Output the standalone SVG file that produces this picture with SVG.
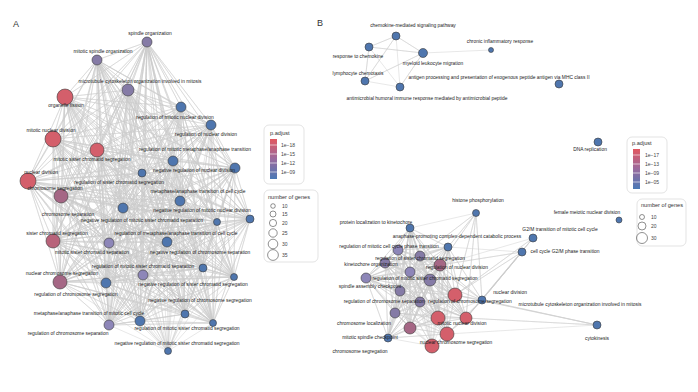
<svg xmlns="http://www.w3.org/2000/svg" width="698" height="392" viewBox="0 0 698 392">
<style>
.e{fill:none;stroke:#cbcbcb;stroke-width:.45}
.n{stroke:#3a3a3a;stroke-width:.6}
.r{fill:#d45f6b}.m{fill:#a56785}.p{fill:#857ba6}.l{fill:#8d86b8}.b{fill:#4f76ae}
text{font-family:"Liberation Sans",Arial,sans-serif;fill:#222}
.t{font-size:4.9px;text-anchor:middle}
.h{font-size:9px;fill:#333}
.lg{fill:#fff;stroke:#dcdcdc;stroke-width:.8}
.lt{font-size:5.6px;fill:#333}
.ll{font-size:5px;fill:#444}
.k{fill:none;stroke:#222;stroke-width:.5}
.tk{stroke:#fff;stroke-width:.6}
</style>
<defs>
<linearGradient id="pg" x1="0" y1="0" x2="0" y2="1">
<stop offset="0" stop-color="#e2575f"/><stop offset=".5" stop-color="#9a6a9e"/><stop offset="1" stop-color="#4a79b6"/>
</linearGradient>
</defs>
<rect width="698" height="392" fill="#fff"/>
<text class="h" x="13" y="27">A</text>
<text class="h" x="317" y="26">B</text>
<g id="connectors">
<path class="e" d="M147 42L97 60 147 42 128 90 147 42 65 97 147 42 181 107 147 42 211 125 147 42 53 139 147 42 97 150 147 42 173 161 147 42 142 173 147 42 235 168 147 42 28 181 147 42 61 196 147 42 180 201 147 42 123 208 147 42 217 222 147 42 250 219 147 42 53 241 147 42 109 243 147 42 167 242 147 42 60 282 147 42 106 283 147 42 143 275 147 42 203 268 147 42 234 277 147 42 109 325 147 42 140 321 147 42 185 314 147 42 213 323 147 42 168 351"/>
<path class="e" d="M97 60L128 90 97 60 65 97 97 60 181 107 97 60 211 125 97 60 53 139 97 60 97 150 97 60 173 161 97 60 142 173 97 60 235 168 97 60 28 181 97 60 61 196 97 60 180 201 97 60 123 208 97 60 217 222 97 60 250 219 97 60 53 241 97 60 109 243 97 60 167 242 97 60 60 282 97 60 106 283 97 60 143 275 97 60 203 268 97 60 234 277 97 60 109 325 97 60 140 321 97 60 185 314 97 60 213 323 97 60 168 351"/>
<path class="e" d="M128 90L65 97 128 90 181 107 128 90 211 125 128 90 53 139 128 90 97 150 128 90 173 161 128 90 142 173 128 90 235 168 128 90 28 181 128 90 61 196 128 90 180 201 128 90 123 208 128 90 217 222 128 90 250 219 128 90 53 241 128 90 109 243 128 90 167 242 128 90 60 282 128 90 106 283 128 90 143 275 128 90 203 268 128 90 234 277 128 90 109 325 128 90 140 321 128 90 185 314 128 90 213 323 128 90 168 351"/>
<path class="e" d="M65 97L181 107 65 97 211 125 65 97 53 139 65 97 97 150 65 97 173 161 65 97 142 173 65 97 235 168 65 97 28 181 65 97 61 196 65 97 180 201 65 97 123 208 65 97 217 222 65 97 250 219 65 97 53 241 65 97 109 243 65 97 167 242 65 97 60 282 65 97 106 283 65 97 143 275 65 97 203 268 65 97 234 277 65 97 109 325 65 97 140 321 65 97 185 314 65 97 213 323 65 97 168 351"/>
<path class="e" d="M181 107L211 125 181 107 53 139 181 107 97 150 181 107 173 161 181 107 142 173 181 107 235 168 181 107 28 181 181 107 61 196 181 107 180 201 181 107 123 208 181 107 217 222 181 107 250 219 181 107 53 241 181 107 109 243 181 107 167 242 181 107 60 282 181 107 106 283 181 107 143 275 181 107 203 268 181 107 234 277 181 107 109 325 181 107 140 321 181 107 185 314 181 107 213 323 181 107 168 351"/>
<path class="e" d="M211 125L53 139 211 125 97 150 211 125 173 161 211 125 142 173 211 125 235 168 211 125 28 181 211 125 61 196 211 125 180 201 211 125 123 208 211 125 217 222 211 125 250 219 211 125 53 241 211 125 109 243 211 125 167 242 211 125 60 282 211 125 106 283 211 125 143 275 211 125 203 268 211 125 234 277 211 125 109 325 211 125 140 321 211 125 185 314 211 125 213 323 211 125 168 351"/>
<path class="e" d="M53 139L97 150 53 139 173 161 53 139 142 173 53 139 235 168 53 139 28 181 53 139 61 196 53 139 180 201 53 139 123 208 53 139 217 222 53 139 250 219 53 139 53 241 53 139 109 243 53 139 167 242 53 139 60 282 53 139 106 283 53 139 143 275 53 139 203 268 53 139 234 277 53 139 109 325 53 139 140 321 53 139 185 314 53 139 213 323 53 139 168 351"/>
<path class="e" d="M97 150L173 161 97 150 142 173 97 150 235 168 97 150 28 181 97 150 61 196 97 150 180 201 97 150 123 208 97 150 217 222 97 150 250 219 97 150 53 241 97 150 109 243 97 150 167 242 97 150 60 282 97 150 106 283 97 150 143 275 97 150 203 268 97 150 234 277 97 150 109 325 97 150 140 321 97 150 185 314 97 150 213 323 97 150 168 351"/>
<path class="e" d="M173 161L142 173 173 161 235 168 173 161 28 181 173 161 61 196 173 161 180 201 173 161 123 208 173 161 217 222 173 161 250 219 173 161 53 241 173 161 109 243 173 161 167 242 173 161 60 282 173 161 106 283 173 161 143 275 173 161 203 268 173 161 234 277 173 161 109 325 173 161 140 321 173 161 185 314 173 161 213 323 173 161 168 351"/>
<path class="e" d="M142 173L235 168 142 173 28 181 142 173 61 196 142 173 180 201 142 173 123 208 142 173 217 222 142 173 250 219 142 173 53 241 142 173 109 243 142 173 167 242 142 173 60 282 142 173 106 283 142 173 143 275 142 173 203 268 142 173 234 277 142 173 109 325 142 173 140 321 142 173 185 314 142 173 213 323 142 173 168 351"/>
<path class="e" d="M235 168L28 181 235 168 61 196 235 168 180 201 235 168 123 208 235 168 217 222 235 168 250 219 235 168 53 241 235 168 109 243 235 168 167 242 235 168 60 282 235 168 106 283 235 168 143 275 235 168 203 268 235 168 234 277 235 168 109 325 235 168 140 321 235 168 185 314 235 168 213 323 235 168 168 351"/>
<path class="e" d="M28 181L61 196 28 181 180 201 28 181 123 208 28 181 217 222 28 181 250 219 28 181 53 241 28 181 109 243 28 181 167 242 28 181 60 282 28 181 106 283 28 181 143 275 28 181 203 268 28 181 234 277 28 181 109 325 28 181 140 321 28 181 185 314 28 181 213 323 28 181 168 351"/>
<path class="e" d="M61 196L180 201 61 196 123 208 61 196 217 222 61 196 250 219 61 196 53 241 61 196 109 243 61 196 167 242 61 196 60 282 61 196 106 283 61 196 143 275 61 196 203 268 61 196 234 277 61 196 109 325 61 196 140 321 61 196 185 314 61 196 213 323 61 196 168 351"/>
<path class="e" d="M180 201L123 208 180 201 217 222 180 201 250 219 180 201 53 241 180 201 109 243 180 201 167 242 180 201 60 282 180 201 106 283 180 201 143 275 180 201 203 268 180 201 234 277 180 201 109 325 180 201 140 321 180 201 185 314 180 201 213 323 180 201 168 351"/>
<path class="e" d="M123 208L217 222 123 208 250 219 123 208 53 241 123 208 109 243 123 208 167 242 123 208 60 282 123 208 106 283 123 208 143 275 123 208 203 268 123 208 234 277 123 208 109 325 123 208 140 321 123 208 185 314 123 208 213 323 123 208 168 351"/>
<path class="e" d="M217 222L250 219 217 222 53 241 217 222 109 243 217 222 167 242 217 222 60 282 217 222 106 283 217 222 143 275 217 222 203 268 217 222 234 277 217 222 109 325 217 222 140 321 217 222 185 314 217 222 213 323 217 222 168 351"/>
<path class="e" d="M250 219L53 241 250 219 109 243 250 219 167 242 250 219 60 282 250 219 106 283 250 219 143 275 250 219 203 268 250 219 234 277 250 219 109 325 250 219 140 321 250 219 185 314 250 219 213 323 250 219 168 351"/>
<path class="e" d="M53 241L109 243 53 241 167 242 53 241 60 282 53 241 106 283 53 241 143 275 53 241 203 268 53 241 234 277 53 241 109 325 53 241 140 321 53 241 185 314 53 241 213 323 53 241 168 351"/>
<path class="e" d="M109 243L167 242 109 243 60 282 109 243 106 283 109 243 143 275 109 243 203 268 109 243 234 277 109 243 109 325 109 243 140 321 109 243 185 314 109 243 213 323 109 243 168 351"/>
<path class="e" d="M167 242L60 282 167 242 106 283 167 242 143 275 167 242 203 268 167 242 234 277 167 242 109 325 167 242 140 321 167 242 185 314 167 242 213 323 167 242 168 351"/>
<path class="e" d="M60 282L106 283 60 282 143 275 60 282 203 268 60 282 234 277 60 282 109 325 60 282 140 321 60 282 185 314 60 282 213 323 60 282 168 351"/>
<path class="e" d="M106 283L143 275 106 283 203 268 106 283 234 277 106 283 109 325 106 283 140 321 106 283 185 314 106 283 213 323 106 283 168 351"/>
<path class="e" d="M143 275L203 268 143 275 234 277 143 275 109 325 143 275 140 321 143 275 185 314 143 275 213 323 143 275 168 351"/>
<path class="e" d="M203 268L234 277 203 268 109 325 203 268 140 321 203 268 185 314 203 268 213 323 203 268 168 351"/>
<path class="e" d="M234 277L109 325 234 277 140 321 234 277 185 314 234 277 213 323 234 277 168 351"/>
<path class="e" d="M109 325L140 321 109 325 185 314 109 325 213 323 109 325 168 351M140 321L185 314 140 321 213 323 140 321 168 351M185 314L213 323 185 314 168 351M213 323L168 351"/>
<path class="e" d="M396 36L369 47 396 36 423 53 396 36 365 81 396 36 400 87M369 47L423 53 369 47 365 81 369 47 400 87M423 53L365 81 423 53 400 87 423 53 491 50M365 81L400 87"/>
<path class="e" d="M410 228L448 247 410 228 398 250 410 228 420 256 410 228 385 263 410 228 440 265 410 228 410 272 410 228 430 280 410 228 366 278 410 228 400 291 410 228 455 295 410 228 420 302 410 228 395 313 410 228 438 318 410 228 466 318 410 228 410 328 410 228 447 334 410 228 388 338 410 228 432 346"/>
<path class="e" d="M448 247L398 250 448 247 420 256 448 247 385 263 448 247 440 265 448 247 410 272 448 247 430 280 448 247 366 278 448 247 400 291 448 247 455 295 448 247 420 302 448 247 482 300 448 247 395 313 448 247 438 318 448 247 466 318 448 247 410 328 448 247 447 334 448 247 432 346"/>
<path class="e" d="M398 250L420 256 398 250 385 263 398 250 440 265 398 250 410 272 398 250 430 280 398 250 366 278 398 250 400 291 398 250 455 295 398 250 420 302 398 250 395 313 398 250 438 318 398 250 466 318 398 250 410 328 398 250 447 334 398 250 388 338 398 250 432 346"/>
<path class="e" d="M420 256L385 263 420 256 440 265 420 256 410 272 420 256 430 280 420 256 366 278 420 256 400 291 420 256 455 295 420 256 420 302 420 256 482 300 420 256 395 313 420 256 438 318 420 256 466 318 420 256 410 328 420 256 447 334 420 256 388 338 420 256 432 346"/>
<path class="e" d="M385 263L440 265 385 263 410 272 385 263 430 280 385 263 366 278 385 263 400 291 385 263 455 295 385 263 420 302 385 263 395 313 385 263 438 318 385 263 466 318 385 263 410 328 385 263 447 334 385 263 388 338 385 263 432 346"/>
<path class="e" d="M440 265L410 272 440 265 430 280 440 265 366 278 440 265 400 291 440 265 455 295 440 265 420 302 440 265 482 300 440 265 395 313 440 265 438 318 440 265 466 318 440 265 410 328 440 265 447 334 440 265 388 338 440 265 432 346"/>
<path class="e" d="M410 272L430 280 410 272 366 278 410 272 400 291 410 272 455 295 410 272 420 302 410 272 395 313 410 272 438 318 410 272 466 318 410 272 410 328 410 272 447 334 410 272 388 338 410 272 432 346"/>
<path class="e" d="M430 280L366 278 430 280 400 291 430 280 455 295 430 280 420 302 430 280 482 300 430 280 395 313 430 280 438 318 430 280 466 318 430 280 410 328 430 280 447 334 430 280 388 338 430 280 432 346"/>
<path class="e" d="M366 278L400 291 366 278 455 295 366 278 420 302 366 278 395 313 366 278 438 318 366 278 466 318 366 278 410 328 366 278 447 334 366 278 388 338 366 278 432 346"/>
<path class="e" d="M400 291L455 295 400 291 420 302 400 291 395 313 400 291 438 318 400 291 466 318 400 291 410 328 400 291 447 334 400 291 388 338 400 291 432 346"/>
<path class="e" d="M455 295L420 302 455 295 482 300 455 295 395 313 455 295 438 318 455 295 466 318 455 295 410 328 455 295 447 334 455 295 388 338 455 295 432 346"/>
<path class="e" d="M420 302L395 313 420 302 438 318 420 302 466 318 420 302 410 328 420 302 447 334 420 302 388 338 420 302 432 346M482 300L466 318 482 300 447 334 482 300 438 318"/>
<path class="e" d="M395 313L438 318 395 313 466 318 395 313 410 328 395 313 447 334 395 313 388 338 395 313 432 346M438 318L466 318 438 318 410 328 438 318 447 334 438 318 388 338 438 318 432 346M466 318L410 328 466 318 447 334 466 318 432 346M410 328L447 334 410 328 388 338 410 328 432 346M447 334L388 338 447 334 432 346M388 338L432 346"/>
<path class="e" d="M476 213L448 247 476 213 420 256 476 213 440 265 476 213 455 295 476 213 482 300 476 213 466 318 476 213 410 228M522 252L455 295 522 252 482 300 522 252 466 318 522 252 440 265 522 252 448 247M533 238L455 295 533 238 466 318 533 238 482 300 533 238 440 265M597 325L482 300 597 325 466 318 597 325 455 295 597 325 447 334"/>
</g>
<g id="nodesA">
<circle id="a1" class="n p" cx="147" cy="42" r="5"/>
<circle id="a2" class="n p" cx="97" cy="60" r="5"/>
<circle id="a3" class="n p" cx="128" cy="90" r="6"/>
<circle id="a4" class="n r" cx="65" cy="97" r="8"/>
<circle id="a5" class="n b" cx="181" cy="107" r="5"/>
<circle id="a6" class="n b" cx="211" cy="125" r="5"/>
<circle id="a7" class="n r" cx="53" cy="139" r="8"/>
<circle id="a8" class="n r" cx="97" cy="150" r="7"/>
<circle id="a9" class="n b" cx="173" cy="161" r="5"/>
<circle id="a10" class="n b" cx="142" cy="173" r="4"/>
<circle id="a11" class="n b" cx="235" cy="168" r="5"/>
<circle id="a12" class="n r" cx="28" cy="181" r="8"/>
<circle id="a13" class="n m" cx="61" cy="196" r="7"/>
<circle id="a14" class="n b" cx="180" cy="201" r="5"/>
<circle id="a15" class="n b" cx="123" cy="208" r="5"/>
<circle id="a16" class="n b" cx="217" cy="222" r="3.5"/>
<circle id="a17" class="n b" cx="250" cy="219" r="4"/>
<circle id="a18" class="n m" cx="53" cy="241" r="7" style="fill:#b8637a"/>
<circle id="a19" class="n l" cx="109" cy="243" r="5"/>
<circle id="a20" class="n b" cx="167" cy="242" r="5"/>
<circle id="a21" class="n m" cx="60" cy="282" r="7"/>
<circle id="a22" class="n b" cx="106" cy="283" r="5"/>
<circle id="a23" class="n l" cx="143" cy="275" r="5"/>
<circle id="a24" class="n b" cx="203" cy="268" r="4"/>
<circle id="a25" class="n b" cx="234" cy="277" r="3.5"/>
<circle id="a26" class="n l" cx="109" cy="325" r="5"/>
<circle id="a27" class="n b" cx="140" cy="321" r="5"/>
<circle id="a28" class="n b" cx="185" cy="314" r="4"/>
<circle id="a29" class="n b" cx="213" cy="323" r="3.5"/>
<circle id="a30" class="n b" cx="168" cy="351" r="3.5"/>
</g>
<g id="nodesB">
<circle id="t1" class="n b" cx="396" cy="36" r="4"/>
<circle id="t2" class="n b" cx="369" cy="47" r="4"/>
<circle id="t3" class="n b" cx="423" cy="53" r="4.5"/>
<circle id="t4" class="n b" cx="365" cy="81" r="4"/>
<circle id="t5" class="n b" cx="400" cy="87" r="4"/>
<circle id="t6" class="n b" cx="491" cy="50" r="2.5"/>
<circle id="t7" class="n b" cx="559" cy="84" r="4"/>
<circle id="b1" class="n b" cx="476" cy="213" r="3.5"/>
<circle id="b2" class="n b" cx="410" cy="228" r="4"/>
<circle id="b3" class="n b" cx="448" cy="247" r="4"/>
<circle id="b4" class="n l" cx="398" cy="250" r="5"/>
<circle id="b5" class="n p" cx="420" cy="256" r="5"/>
<circle id="b6" class="n p" cx="385" cy="263" r="5"/>
<circle id="b7" class="n m" cx="440" cy="265" r="6"/>
<circle id="b8" class="n l" cx="410" cy="272" r="5"/>
<circle id="b9" class="n p" cx="430" cy="280" r="6"/>
<circle id="b10" class="n l" cx="366" cy="278" r="5"/>
<circle id="b11" class="n p" cx="400" cy="291" r="5"/>
<circle id="b12" class="n r" cx="455" cy="295" r="7"/>
<circle id="b13" class="n p" cx="420" cy="302" r="5"/>
<circle id="b14" class="n b" cx="482" cy="300" r="4"/>
<circle id="b15" class="n p" cx="395" cy="313" r="5"/>
<circle id="b16" class="n r" cx="438" cy="318" r="7"/>
<circle id="b17" class="n r" cx="466" cy="318" r="6"/>
<circle id="b18" class="n m" cx="410" cy="328" r="6"/>
<circle id="b19" class="n r" cx="447" cy="334" r="7"/>
<circle id="b20" class="n b" cx="388" cy="338" r="4"/>
<circle id="b21" class="n r" cx="432" cy="346" r="7"/>
<circle id="b22" class="n b" cx="522" cy="252" r="4"/>
<circle id="b23" class="n b" cx="533" cy="238" r="4"/>
<circle id="b24" class="n b" cx="597" cy="325" r="4"/>
<circle id="b25" class="n b" cx="598" cy="142" r="4"/>
<circle id="b26" class="n b" cx="619" cy="220" r="3"/>
</g>
<g id="labelsA">
<text class="t" x="150" y="35">spindle organization</text>
<text class="t" x="103" y="53">mitotic spindle organization</text>
<text class="t" x="140" y="83">microtubule cytoskeleton organization involved in mitosis</text>
<text class="t" x="66" y="107">organelle fission</text>
<text class="t" x="175" y="119">regulation of mitotic nuclear division</text>
<text class="t" x="51" y="132">mitotic nuclear division</text>
<text class="t" x="206" y="136">regulation of nuclear division</text>
<text class="t" x="195" y="151">regulation of mitotic metaphase/anaphase transition</text>
<text class="t" x="92" y="161">mitotic sister chromatid segregation</text>
<text class="t" x="194" y="172">negative regulation of nuclear division</text>
<text class="t" x="41" y="174">nuclear division</text>
<text class="t" x="119" y="184">regulation of sister chromatid segregation</text>
<text class="t" x="55" y="190">chromosome segregation</text>
<text class="t" x="198" y="193">metaphase/anaphase transition of cell cycle</text>
<text class="t" x="202" y="212">negative regulation of mitotic nuclear division</text>
<text class="t" x="68" y="216">chromosome separation</text>
<text class="t" x="142" y="222">negative regulation of mitotic sister chromatid separation</text>
<text class="t" x="57" y="235">sister chromatid segregation</text>
<text class="t" x="176" y="235">regulation of metaphase/anaphase transition of cell cycle</text>
<text class="t" x="92" y="254">mitotic sister chromatid separation</text>
<text class="t" x="200" y="254">negative regulation of chromosome separation</text>
<text class="t" x="143" y="268">regulation of mitotic sister chromatid separation</text>
<text class="t" x="62" y="275">nuclear chromosome segregation</text>
<text class="t" x="193" y="286">negative regulation of sister chromatid segregation</text>
<text class="t" x="76" y="296">regulation of chromosome segregation</text>
<text class="t" x="200" y="302">negative regulation of chromosome segregation</text>
<text class="t" x="89" y="315">metaphase/anaphase transition of mitotic cell cycle</text>
<text class="t" x="187" y="330">regulation of mitotic sister chromatid segregation</text>
<text class="t" x="68" y="335">regulation of chromosome separation</text>
<text class="t" x="177" y="345">negative regulation of mitotic sister chromatid segregation</text>
</g>
<g id="labelsB">
<text class="t" x="413" y="27">chemokine-mediated signaling pathway</text>
<text class="t" x="500" y="43">chronic inflammatory response</text>
<text class="t" x="358" y="58">response to chemokine</text>
<text class="t" x="433" y="65">myeloid leukocyte migration</text>
<text class="t" x="358" y="75">lymphocyte chemotaxis</text>
<text class="t" x="499" y="79">antigen processing and presentation of exogenous peptide antigen via MHC class II</text>
<text class="t" x="427" y="100">antimicrobial humoral immune response mediated by antimicrobial peptide</text>
<text class="t" x="590" y="151">DNA replication</text>
<text class="t" x="478" y="202">histone phosphorylation</text>
<text class="t" x="587" y="214">female meiotic nuclear division</text>
<text class="t" x="376" y="224">protein localization to kinetochore</text>
<text class="t" x="560" y="231">G2/M transition of mitotic cell cycle</text>
<text class="t" x="457" y="238">anaphase-promoting complex-dependent catabolic process</text>
<text class="t" x="389" y="248">regulation of mitotic cell cycle phase transition</text>
<text class="t" x="565" y="253">cell cycle G2/M phase transition</text>
<text class="t" x="420" y="260">regulation of sister chromatid segregation</text>
<text class="t" x="371" y="266">kinetochore organization</text>
<text class="t" x="457" y="269">regulation of nuclear division</text>
<text class="t" x="425" y="280">regulation of mitotic sister chromatid segregation</text>
<text class="t" x="370" y="288">spindle assembly checkpoint</text>
<text class="t" x="510" y="294">nuclear division</text>
<text class="t" x="384" y="303">regulation of chromosome separation</text>
<text class="t" x="470" y="303">regulation of chromosome segregation</text>
<text class="t" x="580" y="306">microtubule cytoskeleton organization involved in mitosis</text>
<text class="t" x="364" y="325">chromosome localization</text>
<text class="t" x="462" y="325">mitotic nuclear division</text>
<text class="t" x="370" y="339">mitotic spindle checkpoint</text>
<text class="t" x="597" y="340">cytokinesis</text>
<text class="t" x="456" y="344">nuclear chromosome segregation</text>
<text class="t" x="360" y="353">chromosome segregation</text>
</g>
<g id="legendA">
<rect class="lg" x="264" y="125" width="40" height="59" rx="5"/>
<text class="lt" x="270" y="135">p.adjust</text>
<rect x="270" y="139" width="7" height="40" fill="url(#pg)"/>
<line class="tk" x1="270" y1="145" x2="277" y2="145"/><line class="tk" x1="270" y1="154" x2="277" y2="154"/><line class="tk" x1="270" y1="163" x2="277" y2="163"/><line class="tk" x1="270" y1="172" x2="277" y2="172"/>
<text class="ll" x="281" y="147">1e−18</text><text class="ll" x="281" y="156">1e−15</text><text class="ll" x="281" y="165">1e−12</text><text class="ll" x="281" y="174">1e−09</text>
<rect class="lg" x="264" y="190" width="54" height="72" rx="5"/>
<text class="lt" x="268" y="199">number of genes</text>
<circle class="k" cx="273" cy="206" r="2.3"/><circle class="k" cx="273" cy="214" r="3"/><circle class="k" cx="273" cy="223" r="3.6"/><circle class="k" cx="273" cy="233" r="4.2"/><circle class="k" cx="273" cy="244" r="4.8"/><circle class="k" cx="273" cy="255" r="5.4"/>
<text class="ll" x="282" y="208">10</text><text class="ll" x="282" y="216">15</text><text class="ll" x="282" y="225">20</text><text class="ll" x="282" y="235">25</text><text class="ll" x="282" y="246">30</text><text class="ll" x="282" y="257">35</text>
</g>
<g id="legendB">
<rect class="lg" x="627" y="137" width="40" height="56" rx="5"/>
<text class="lt" x="632" y="145">p.adjust</text>
<rect x="633" y="149" width="7" height="40" fill="url(#pg)"/>
<line class="tk" x1="633" y1="155" x2="640" y2="155"/><line class="tk" x1="633" y1="164" x2="640" y2="164"/><line class="tk" x1="633" y1="173" x2="640" y2="173"/><line class="tk" x1="633" y1="182" x2="640" y2="182"/>
<text class="ll" x="645" y="157">1e−17</text><text class="ll" x="645" y="166">1e−13</text><text class="ll" x="645" y="175">1e−09</text><text class="ll" x="645" y="184">1e−05</text>
<rect class="lg" x="637" y="199" width="49" height="47" rx="5"/>
<text class="lt" x="641" y="207">number of genes</text>
<circle class="k" cx="642" cy="217" r="2.5"/><circle class="k" cx="642" cy="226" r="4"/><circle class="k" cx="642" cy="238" r="5.5"/>
<text class="ll" x="651" y="219">10</text><text class="ll" x="651" y="228">20</text><text class="ll" x="651" y="240">30</text>
</g>
</svg>
